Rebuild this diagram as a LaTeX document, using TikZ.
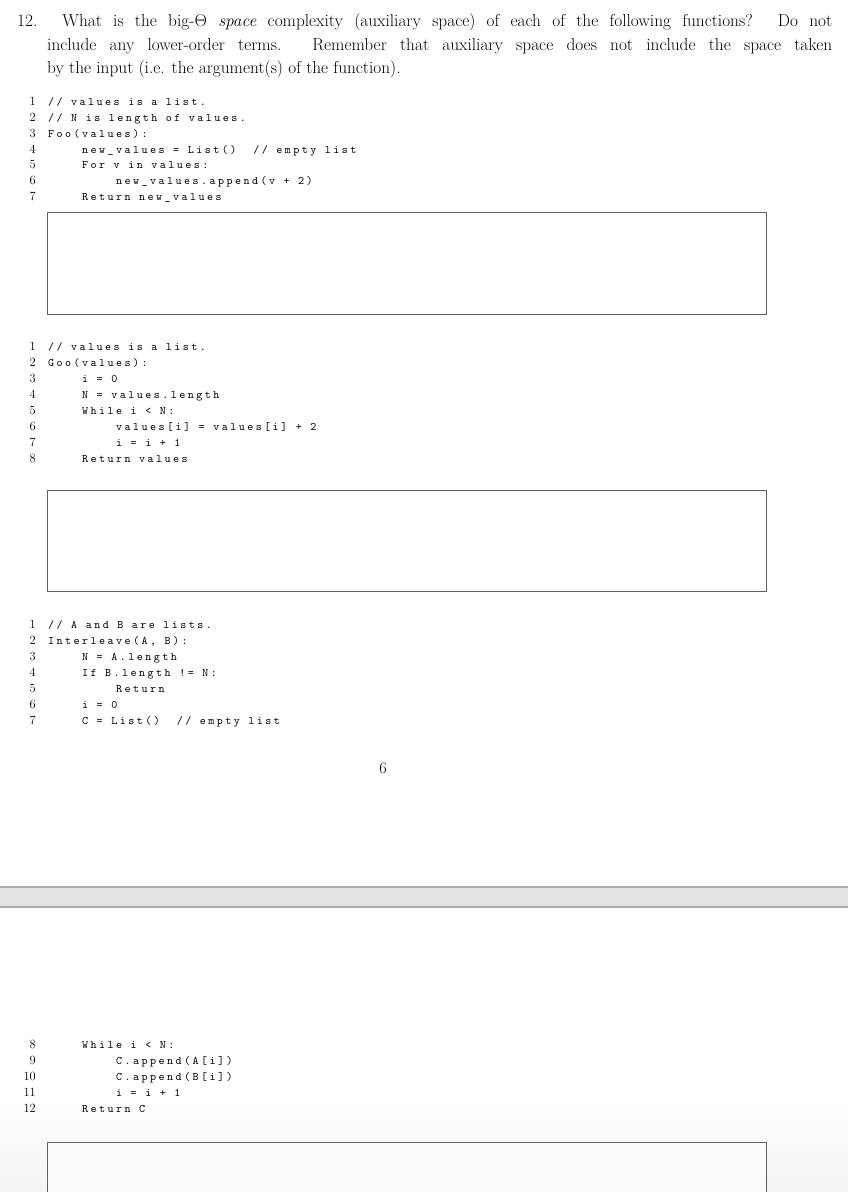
\documentclass[tikz,border=0pt]{standalone}
\usepackage{fontspec}
\newfontfamily\codefont{lmmono10-regular.otf}[LetterSpace=21.4]
\newcommand\codesetup{\codefont\fontsize{11.5}{14}\selectfont
  \fontdimen2\font=8.5pt\relax\fontdimen3\font=0pt\relax\fontdimen4\font=0pt\relax}
\tikzset{
  ln/.style={anchor=base east,inner sep=0pt,font=\fontsize{12.5}{14}\selectfont},
  cd/.style={anchor=base west,inner sep=0pt,font=\codesetup},
  hd/.style={anchor=base west,inner sep=0pt,font=\fontsize{17.3}{20}\selectfont},
  ans/.style={draw=gray!75!black,line width=0.9pt,fill=white}
}
\newcommand\codeline[4]{% y, number, indent, text
  \node[ln] (n#2x#1) at (36,-#1-4.5) {#2};
  \node[cd] (c#2x#1) at (48+8.5*#3,-#1-4.5) {#4};}
\begin{document}
\begin{tikzpicture}[x=1pt,y=1pt]
\useasboundingbox (0,0) rectangle (848,-1192);
\fill[white] (0,0) rectangle (848,-1192);
\shade[top color=white,bottom color=gray!9] (0,-1100) rectangle (848,-1192);
% heading
\node[hd] (h1) at (17,-26) {\makebox[815pt][s]{12. What is the big-$\Theta$ \textit{space} complexity (auxiliary space) of each of the following functions? Do not}};
\node[hd] (h2) at (47,-50) {\makebox[785pt][s]{include any lower-order terms. Remember that auxiliary space does not include the space taken}};
\node[hd] (h3) at (47,-73) {by the input (i.e. the argument(s) of the function).};
% block 1
\codeline{101}{1}{0}{// values is a list.}
\codeline{117}{2}{0}{// N is length of values.}
\codeline{133}{3}{0}{Foo(values):}
\codeline{149}{4}{4}{new\_values = List() ~// empty list}
\codeline{164}{5}{4}{For v in values:}
\codeline{180}{6}{8}{new\_values.append(v + 2)}
\codeline{196}{7}{4}{Return new\_values}
\node[ans,minimum width=719pt,minimum height=102pt,anchor=north west,inner sep=0pt] (b1) at (47,-212) {};
% block 2
\codeline{346}{1}{0}{// values is a list.}
\codeline{362}{2}{0}{Goo(values):}
\codeline{378}{3}{4}{i = 0}
\codeline{394}{4}{4}{N = values.length}
\codeline{410}{5}{4}{While i < N:}
\codeline{426}{6}{8}{values[i] = values[i] + 2}
\codeline{442}{7}{8}{i = i + 1}
\codeline{458}{8}{4}{Return values}
\node[ans,minimum width=719pt,minimum height=101pt,anchor=north west,inner sep=0pt] (b2) at (47,-490) {};
% block 3
\codeline{624}{1}{0}{// A and B are lists.}
\codeline{640}{2}{0}{Interleave(A, B):}
\codeline{656}{3}{4}{N = A.length}
\codeline{672}{4}{4}{If B.length != N:}
\codeline{688}{5}{8}{Return}
\codeline{704}{6}{4}{i = 0}
\codeline{720}{7}{4}{C = List() ~// empty list}
\node[font=\fontsize{16}{18}\selectfont,inner sep=0pt] (pg) at (383,-768) {6};
% page break bar
\fill[gray!22] (0,-886) rectangle (848,-908);
\draw[gray!65,line width=1.8pt] (0,-887) -- (848,-887) (0,-907) -- (848,-907);
% block 4
\codeline{1044}{8}{4}{While i < N:}
\codeline{1060}{9}{8}{C.append(A[i])}
\codeline{1076}{10}{8}{C.append(B[i])}
\codeline{1092}{11}{8}{i = i + 1}
\codeline{1108}{12}{4}{Return C}
\path[fill=white!97!gray,draw=gray!75!black,line width=0.9pt] (47,-1200) -- (47,-1142) -- (766,-1142) -- (766,-1200);
\end{tikzpicture}
\end{document}
